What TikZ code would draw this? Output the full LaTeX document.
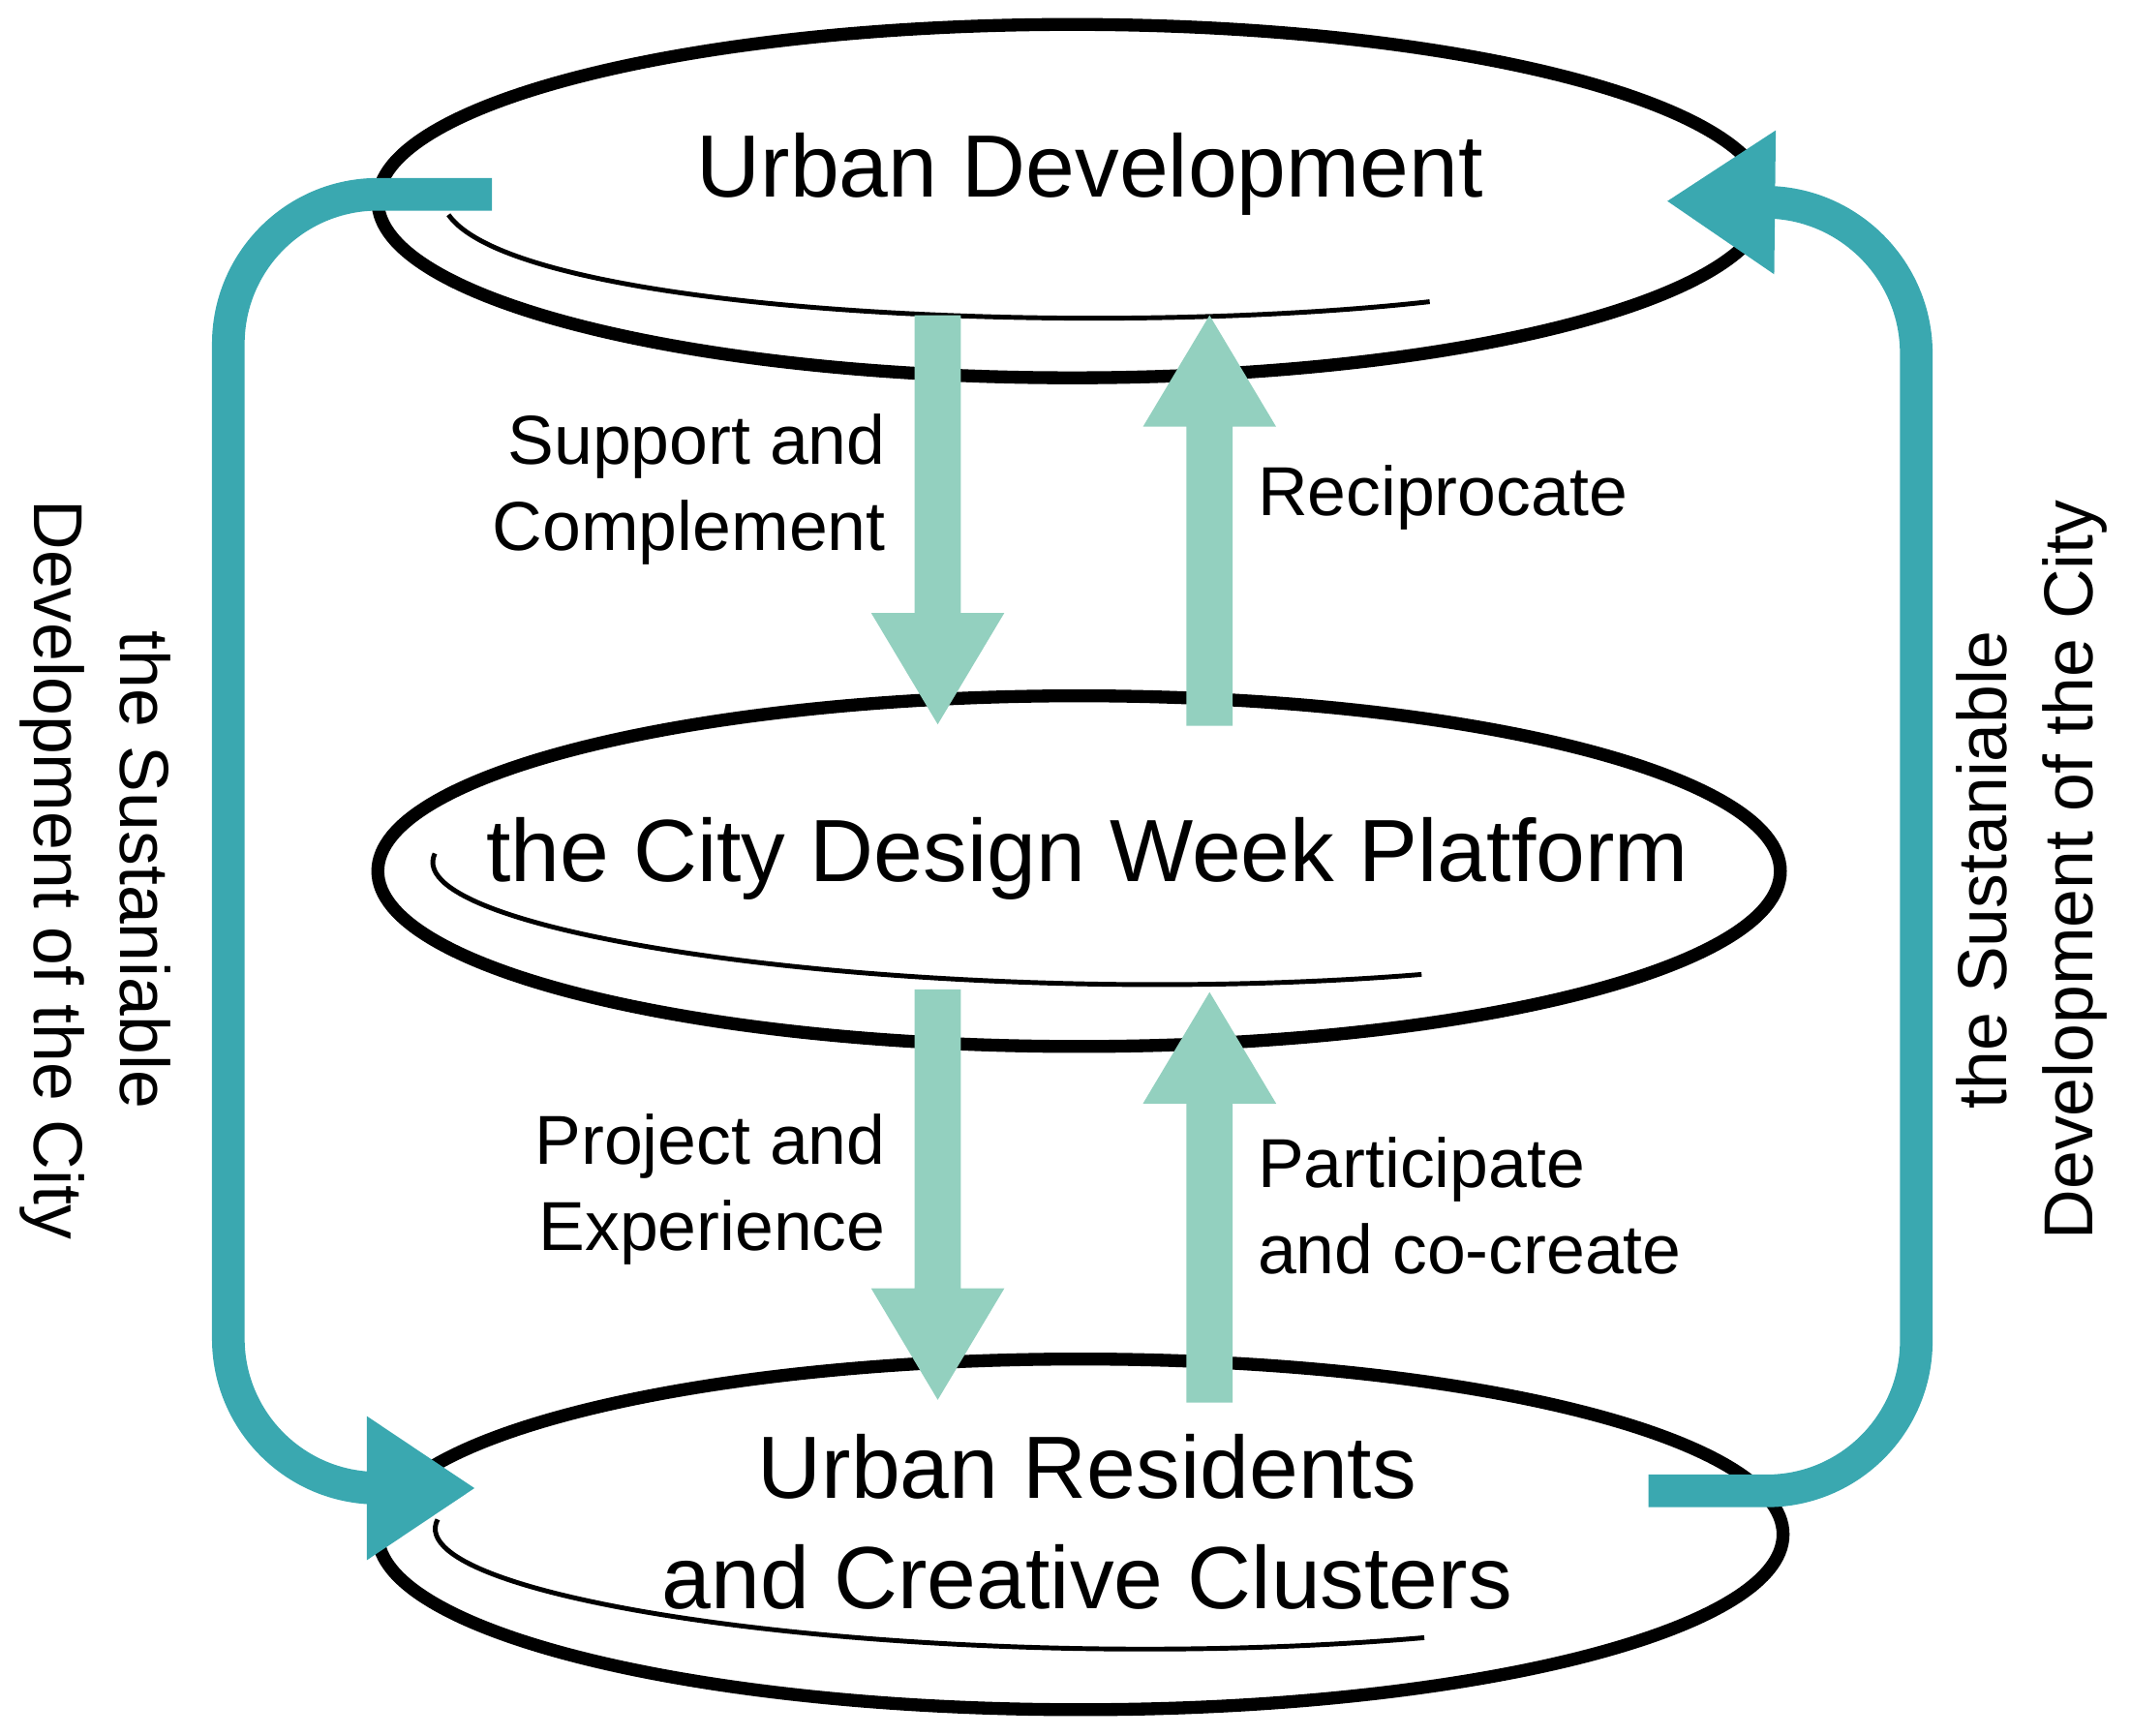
\documentclass[tikz,border=0pt]{standalone}
\usepackage{fontspec}
\setmainfont{Liberation Sans}
\usetikzlibrary{arrows.meta}
\definecolor{teal1}{HTML}{3AA8B0}
\definecolor{mint}{HTML}{93D0BF}
\begin{document}
\begin{tikzpicture}[x=0.01cm,y=-0.01cm,
  ell/.style={draw,line width=2.7pt,fill=white},
  inner/.style={draw,line width=1pt},
  loop/.style={draw=teal1,line width=0.24cm,rounded corners=1.1cm,-{Triangle[length=0.8cm,width=1cm]}},
  lbl/.style={font=\fontsize{14.5}{18}\selectfont,align=left},
  big/.style={font=\fontsize{18.5}{23}\selectfont,align=center}]
\useasboundingbox (0,0) rectangle (1568,1277);
% ellipses
\draw[ell] (789,148) ellipse [x radius=511, y radius=130];
\draw[inner] (330,158) .. controls (380,230) and (800,250) .. (1052,222);
\draw[ell] (794,641) ellipse [x radius=516, y radius=129];
\draw[inner] (320,628) .. controls (290,690) and (700,745) .. (1046,717);
\draw[ell] (795,1129) ellipse [x radius=517, y radius=129];
\draw[inner] (322,1118) .. controls (290,1180) and (700,1235) .. (1048,1205);
% texts
\node[big] (ud) at (802,128) {Urban Development};
\node[big] (cd) at (800,632) {the City Design Week Platform};
\node[big] (ur) at (800,1120) {Urban Residents\\and Creative Clusters};
% block arrows
\newcommand{\dnarrow}[3]{\fill[mint] (#1-17,#2) -- (#1+17,#2) -- (#1+17,#3-82) -- (#1+49,#3-82) -- (#1,#3) -- (#1-49,#3-82) -- (#1-17,#3-82) -- cycle;}
\newcommand{\uparrowb}[3]{\fill[mint] (#1-17,#2) -- (#1+17,#2) -- (#1+17,#3+82) -- (#1+49,#3+82) -- (#1,#3) -- (#1-49,#3+82) -- (#1-17,#3+82) -- cycle;}
\dnarrow{690}{232}{533}
\uparrowb{890}{534}{232}
\dnarrow{690}{728}{1030}
\uparrowb{890}{1032}{730}
\node[lbl,align=right,anchor=east] (l1) at (664,360) {Support and\\Complement};
\node[lbl,anchor=west] (l2) at (913,366) {Reciprocate};
\node[lbl,align=right,anchor=east] (l3) at (664,875) {Project and\\Experience};
\node[lbl,anchor=west] (l4) at (913,887) {Participate\\and co-create};
% teal loops
\coordinate (a1) at (362,143);
\coordinate (a2) at (350,1095);
\coordinate (b1) at (1213,1097);
\coordinate (b2) at (1226,148);
\draw[loop] (a1) -- (168,143) -- (168,1095) -- (a2);
\draw[loop] (b1) -- (1410,1097) -- (1410,150) -- (b2);
\node[lbl,align=center,rotate=-90] (sl) at (70,640) {the Sustaniable\\Development of the City};
\node[lbl,align=center,rotate=90] (sr) at (1495,640) {the Sustaniable\\Development of the City};
\end{tikzpicture}
\end{document}
